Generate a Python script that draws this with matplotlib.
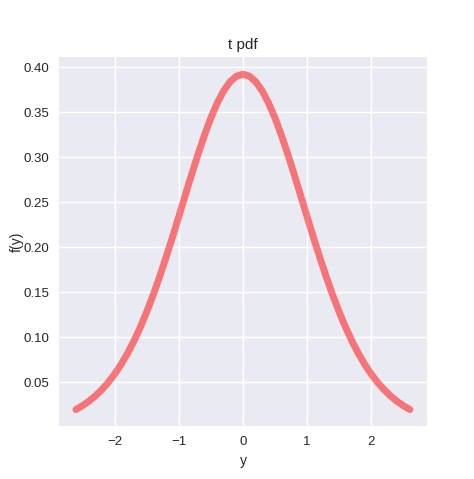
import numpy as np
import matplotlib
matplotlib.use("Agg")
import matplotlib.pyplot as plt

# t pdf values (symmetric around 0)
y_half = [0.0, 0.1, 0.2, 0.3, 0.4, 0.5, 0.6, 0.7, 0.8, 0.9, 1.0, 1.1, 1.2, 1.3,
          1.4, 1.5, 1.6, 1.7, 1.8, 1.9, 2.0, 2.1, 2.2, 2.3, 2.4, 2.5, 2.602]
f_half = [0.3924, 0.3903, 0.3841, 0.3740, 0.3604, 0.3438, 0.3245, 0.3034, 0.2809,
          0.2576, 0.2341, 0.2109, 0.1885, 0.1670, 0.1469, 0.1283, 0.1112, 0.0958,
          0.0821, 0.0699, 0.0592, 0.0499, 0.0419, 0.0350, 0.0291, 0.0242, 0.0199]

y = np.concatenate([-np.array(y_half[:0:-1]), y_half])
fy = np.concatenate([f_half[:0:-1], f_half])

plt.style.use("seaborn-v0_8")
plt.rcParams['font.family'] = ['Liberation Sans', 'DejaVu Sans']
plt.rcParams['xtick.labelsize'] = 9.5
plt.rcParams['ytick.labelsize'] = 9.5
plt.rcParams['axes.labelsize'] = 10
plt.rcParams['axes.titlesize'] = 11

fig, ax = plt.subplots(figsize=(4.74, 4.79), dpi=100)
ax.plot(y, fy, 'r-', lw=5, alpha=0.5)
ax.set_title("t pdf")
ax.set_xlabel("y")
ax.set_ylabel("f(y)", labelpad=0)
fig.subplots_adjust(left=0.125, right=0.9, bottom=0.11, top=0.88)
fig.savefig("out.png")
